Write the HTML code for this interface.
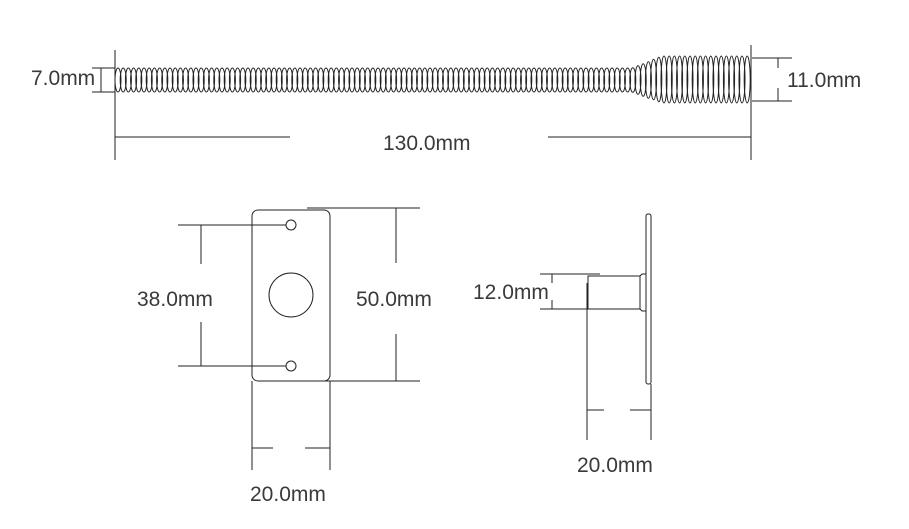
<!DOCTYPE html>
<html><head><meta charset="utf-8"><style>
body{margin:0;background:#fff;width:909px;height:524px;overflow:hidden}
svg text{font-family:"Liberation Sans",sans-serif;font-size:21px;fill:#3a3a3a}
</style></head><body>
<svg id="s" width="909" height="524" viewBox="0 0 909 524" xmlns="http://www.w3.org/2000/svg">
<g stroke="#222" stroke-width="1" fill="none">
<g id="coils"></g>
<line x1="115" y1="50" x2="115" y2="160"/>
<line x1="751" y1="45" x2="751" y2="160"/>
<line x1="92" y1="68" x2="115" y2="68"/>
<line x1="92" y1="92" x2="115" y2="92"/>
<line x1="101" y1="68" x2="101" y2="92"/>
<line x1="752" y1="58" x2="792" y2="58"/>
<line x1="752" y1="101" x2="792" y2="101"/>
<line x1="778" y1="58" x2="778" y2="68"/>
<line x1="778" y1="88" x2="778" y2="101"/>
<line x1="115" y1="137" x2="290" y2="137"/>
<line x1="548" y1="137" x2="751" y2="137"/>
<rect x="252" y="210" width="78" height="171" rx="6"/>
<circle cx="291" cy="225" r="5"/>
<circle cx="291" cy="366" r="5"/>
<circle cx="291" cy="295" r="22"/>
<line x1="178" y1="225" x2="286" y2="225"/>
<line x1="178" y1="366" x2="286" y2="366"/>
<line x1="201" y1="225" x2="201" y2="264"/>
<line x1="201" y1="322" x2="201" y2="366"/>
<line x1="307" y1="208" x2="420" y2="208"/>
<line x1="307" y1="381" x2="420" y2="381"/>
<line x1="396" y1="208" x2="396" y2="263"/>
<line x1="396" y1="334" x2="396" y2="381"/>
<line x1="252" y1="381" x2="252" y2="470"/>
<line x1="330" y1="381" x2="330" y2="470"/>
<line x1="252" y1="448" x2="273" y2="448"/>
<line x1="305" y1="448" x2="330" y2="448"/>
<rect x="646" y="214" width="5" height="170" rx="2"/>
<rect x="588" y="276" width="52" height="33"/>
<path d="M640 276 L642 274 L646 274 M640 309 L642 311 L646 311 M640 276 L640 309"/>
<line x1="540" y1="274" x2="600" y2="274"/>
<line x1="540" y1="309" x2="600" y2="309"/>
<line x1="552" y1="274" x2="552" y2="283"/>
<line x1="552" y1="300" x2="552" y2="309"/>
<line x1="587" y1="283" x2="587" y2="440"/>
<line x1="651" y1="384" x2="651" y2="440"/>
<line x1="587" y1="410" x2="604" y2="410"/>
<line x1="630" y1="410" x2="651" y2="410"/>
</g>
<text x="31" y="85">7.0mm</text>
<text x="787" y="87">11.0mm</text>
<text x="383" y="150">130.0mm</text>
<text x="137" y="306">38.0mm</text>
<text x="356" y="306">50.0mm</text>
<text x="250" y="501">20.0mm</text>
<text x="473" y="299">12.0mm</text>
<text x="577" y="472">20.0mm</text>
</svg>
<script>
var g=document.getElementById('coils'),ns='http://www.w3.org/2000/svg';
function half(x){
 if(x<632)return 12; if(x>662)return 23.5; return 12+(x-632)/30*11.5;}
for(var x=118;x<=748;x+=5.2){
 var h=half(x),e=document.createElementNS(ns,'ellipse');
 e.setAttribute('cx',x.toFixed(1));e.setAttribute('cy',h>20?79.5:80);
 e.setAttribute('rx',3);e.setAttribute('ry',h);g.appendChild(e);}
</script>
</body></html>
